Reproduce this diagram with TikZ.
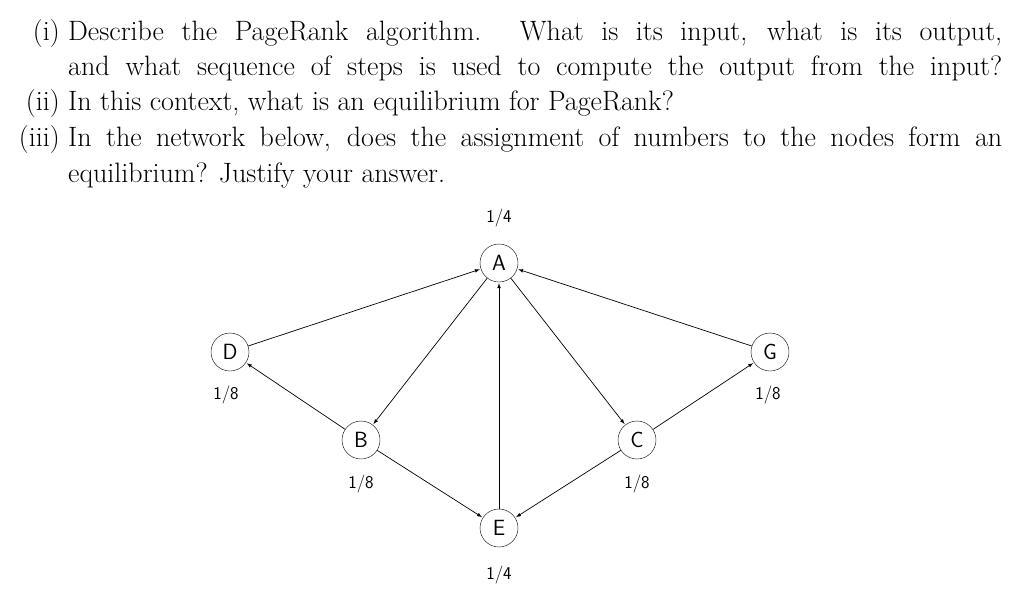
\documentclass[tikz,border=0pt]{standalone}
\usepackage{fontspec}
\begin{document}
\begin{tikzpicture}[x=1pt,y=-1pt,
  q/.style={font=\fontsize{28}{34}\selectfont,inner sep=0pt,anchor=base west},
  ql/.style={font=\fontsize{28}{34}\selectfont,inner sep=0pt,anchor=base east},
  v/.style={circle,draw,minimum size=38pt,inner sep=0pt,font=\sffamily\fontsize{22}{24}\selectfont},
  lab/.style={font=\sffamily\fontsize{18}{20}\selectfont,inner sep=0pt},
  e/.style={-latex,line width=0.7pt,shorten >=1pt}]
\useasboundingbox (0,0) rectangle (1024,590);
\node[ql] (l1) at (60,40) {(i)};
\node[q] (t1) at (68,40) {\makebox[934pt][s]{Describe the PageRank algorithm. What is its input, what is its output,}};
\node[q] (t2) at (68,75) {\makebox[934pt][s]{and what sequence of steps is used to compute the output from the input?}};
\node[ql] (l2) at (60,110) {(ii)};
\node[q] (t3) at (68,110) {In this context, what is an equilibrium for PageRank?};
\node[ql] (l3) at (60,146) {(iii)};
\node[q] (t4) at (68,146) {\makebox[934pt][s]{In the network below, does the assignment of numbers to the nodes form an}};
\node[q] (t5) at (68,182) {equilibrium? Justify your answer.};
\node[v] (A) at (499,263) {A};
\node[v] (D) at (230,352) {D};
\node[v] (G) at (770,352) {G};
\node[v] (B) at (361,440) {B};
\node[v] (C) at (637,440) {C};
\node[v] (E) at (499,528) {E};
\node[lab] (a1) at (499,218) {1/4};
\node[lab] (d1) at (226,395) {1/8};
\node[lab] (g1) at (768,395) {1/8};
\node[lab] (b1) at (361,484) {1/8};
\node[lab] (c1) at (637,484) {1/8};
\node[lab] (e1) at (499,575) {1/4};
\draw[e] (D) -- (A);
\draw[e] (G) -- (A);
\draw[e] (A) -- (B);
\draw[e] (A) -- (C);
\draw[e] (B) -- (D);
\draw[e] (C) -- (G);
\draw[e] (B) -- (E);
\draw[e] (C) -- (E);
\draw[e] (E) -- (A);
\end{tikzpicture}
\end{document}
